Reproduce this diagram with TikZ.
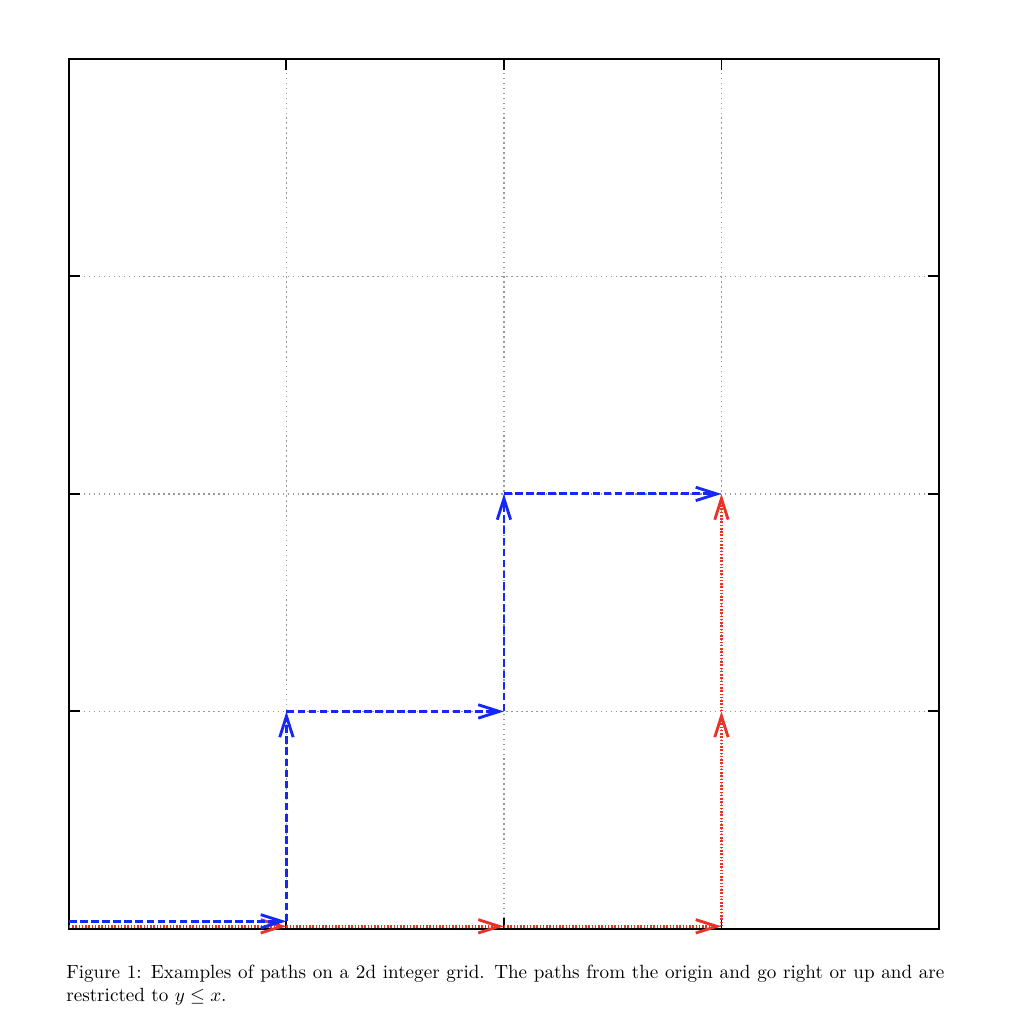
\documentclass[tikz,border=0pt]{standalone}
\usetikzlibrary{arrows.meta}
\definecolor{pathblue}{RGB}{20,40,250}
\definecolor{pathred}{RGB}{232,52,40}
\begin{document}
\begin{tikzpicture}[x=4cm,y=4cm,
  gridline/.style={gray!80, line width=0.6pt, dash pattern=on 0.8pt off 1.8pt},
  frameline/.style={black, line width=1pt},
  tickline/.style={black, line width=1pt},
  tipstyle/.style={-{Straight Barb[length=11pt,width=7pt,line width=1.5pt]}},
  bluepath/.style={pathblue, line width=1.5pt, dash pattern=on 4pt off 1.8pt, tipstyle},
  redpath/.style={pathred, line width=1.3pt, dash pattern=on 0.8pt off 0.9pt, tipstyle},
  captionnode/.style={anchor=north west, inner sep=0pt, text width=16.15cm, align=justify, font=\normalsize}]
\useasboundingbox (-0.317,-0.4) rectangle (4.391,4.271);
% grid
\foreach \i in {1,2,3} {
  \draw[gridline] (\i,0) -- (\i,4);
  \draw[gridline] (0,\i) -- (4,\i);
}
% ticks
\foreach \i in {1,2,3} {
  \draw[tickline] (\i,0) -- (\i,0.05);
  \draw[tickline] (\i,4) -- (\i,3.95);
  \draw[tickline] (0,\i) -- (0.05,\i);
  \draw[tickline] (4,\i) -- (3.95,\i);
}
% frame
\draw[frameline] (0,0) rectangle (4,4);
% red path
\coordinate (r0) at (0,0.012);
\coordinate (r1) at (1,0.012);
\coordinate (r2) at (2,0.012);
\coordinate (r3) at (3,0.012);
\coordinate (r4) at (3,1);
\coordinate (r5) at (3,2);
\draw[redpath] (r0) -- (r1);
\draw[redpath] (r1) -- (r2);
\draw[redpath] (r2) -- (r3);
\draw[redpath] (r3) -- (r4);
\draw[redpath] (r4) -- (r5);
% blue path
\coordinate (b0) at (0,0.035);
\coordinate (b1) at (1,0.035);
\coordinate (b2) at (1,1);
\coordinate (b3) at (2,1);
\coordinate (b4) at (2,2);
\coordinate (b5) at (3,2);
\draw[bluepath] (b0) -- (b1);
\draw[bluepath] (b1) -- (b2);
\draw[bluepath] (b2) -- (b3);
\draw[bluepath] (b3) -- (b4);
\draw[bluepath] (b4) -- (b5);
% caption
\node[captionnode] (caption) at (-0.014,-0.163) {Figure 1: Examples of paths on a 2d integer grid. The paths from the origin and go right or up and are restricted to $y \leq x$.};
\end{tikzpicture}
\end{document}
